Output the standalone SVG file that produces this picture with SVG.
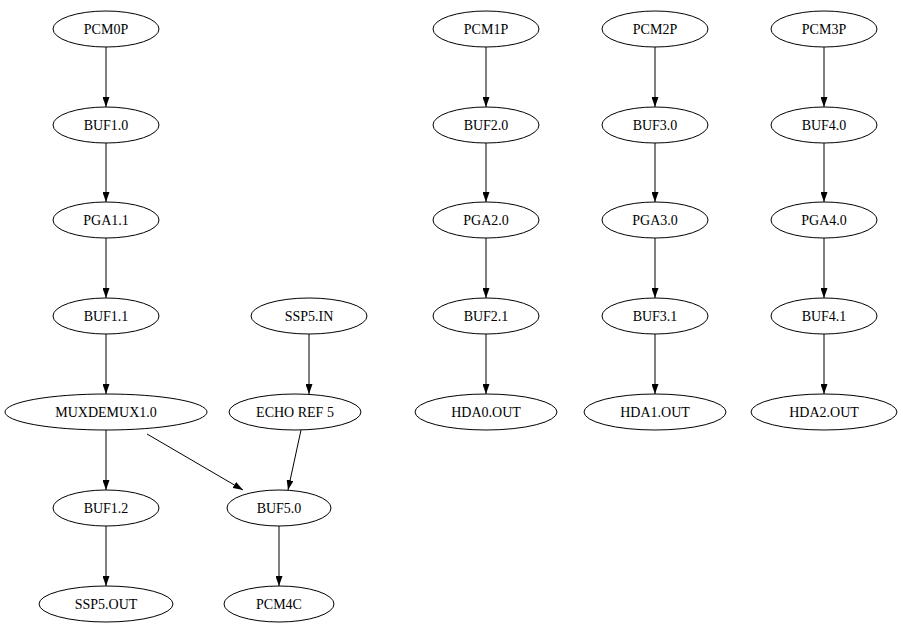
<svg xmlns="http://www.w3.org/2000/svg" width="903" height="635" viewBox="0 0 903 635">
<style>
ellipse{fill:none;stroke:#000;stroke-width:1}
text{font-family:"Liberation Serif",serif;font-size:14px;text-anchor:middle;dominant-baseline:central}
.e line{stroke:#000;stroke-width:1;marker-end:url(#a)}
</style>
<defs><marker id="a" markerWidth="10" markerHeight="7" refX="10" refY="3.5" orient="auto" markerUnits="userSpaceOnUse"><path d="M0,0L10,3.5L0,7z"/></marker></defs>
<rect width="903" height="635" fill="#fff"/>
<g class="e">
<line x1="106" y1="47" x2="106" y2="107"/>
<line x1="106" y1="143" x2="106" y2="202"/>
<line x1="106" y1="238" x2="106" y2="298"/>
<line x1="106" y1="334" x2="106" y2="394"/>
<line x1="106" y1="430" x2="106" y2="490"/>
<line x1="106" y1="526" x2="106" y2="586"/>
<line x1="147" y1="434" x2="243" y2="490"/>
<line x1="309" y1="334" x2="309" y2="394"/>
<line x1="301" y1="430" x2="288" y2="490"/>
<line x1="279" y1="526" x2="279" y2="586"/>
<line x1="486" y1="47" x2="486" y2="107"/>
<line x1="486" y1="143" x2="486" y2="202"/>
<line x1="486" y1="238" x2="486" y2="298"/>
<line x1="486" y1="334" x2="486" y2="394"/>
<line x1="655" y1="47" x2="655" y2="107"/>
<line x1="655" y1="143" x2="655" y2="202"/>
<line x1="655" y1="238" x2="655" y2="298"/>
<line x1="655" y1="334" x2="655" y2="394"/>
<line x1="824" y1="47" x2="824" y2="107"/>
<line x1="824" y1="143" x2="824" y2="202"/>
<line x1="824" y1="238" x2="824" y2="298"/>
<line x1="824" y1="334" x2="824" y2="394"/>
</g>
<g id="pcm0p"><ellipse cx="106" cy="29" rx="53" ry="18"/><text x="106" y="29">PCM0P</text></g>
<g id="buf10"><ellipse cx="106" cy="125" rx="53" ry="18"/><text x="106" y="125">BUF1.0</text></g>
<g id="pga11"><ellipse cx="106" cy="220" rx="53" ry="18"/><text x="106" y="220">PGA1.1</text></g>
<g id="buf11"><ellipse cx="106" cy="316" rx="53" ry="18"/><text x="106" y="316">BUF1.1</text></g>
<g id="mux"><ellipse cx="106" cy="412" rx="101" ry="18"/><text x="106" y="412">MUXDEMUX1.0</text></g>
<g id="buf12"><ellipse cx="106" cy="508" rx="53" ry="18"/><text x="106" y="508">BUF1.2</text></g>
<g id="ssp5out"><ellipse cx="106" cy="604" rx="67" ry="18"/><text x="106" y="604">SSP5.OUT</text></g>
<g id="ssp5in"><ellipse cx="309" cy="316" rx="58" ry="18"/><text x="309" y="316">SSP5.IN</text></g>
<g id="echo"><ellipse cx="295" cy="412" rx="66" ry="18"/><text x="295" y="412">ECHO REF 5</text></g>
<g id="buf50"><ellipse cx="279" cy="508" rx="52" ry="18"/><text x="279" y="508">BUF5.0</text></g>
<g id="pcm4c"><ellipse cx="279" cy="604" rx="55" ry="18"/><text x="279" y="604">PCM4C</text></g>
<g id="pcm1p"><ellipse cx="486" cy="29" rx="53" ry="18"/><text x="486" y="29">PCM1P</text></g>
<g id="buf20"><ellipse cx="486" cy="125" rx="53" ry="18"/><text x="486" y="125">BUF2.0</text></g>
<g id="pga20"><ellipse cx="486" cy="220" rx="53" ry="18"/><text x="486" y="220">PGA2.0</text></g>
<g id="buf21"><ellipse cx="486" cy="316" rx="53" ry="18"/><text x="486" y="316">BUF2.1</text></g>
<g id="hda0"><ellipse cx="486" cy="412" rx="71" ry="18"/><text x="486" y="412">HDA0.OUT</text></g>
<g id="pcm2p"><ellipse cx="655" cy="29" rx="53" ry="18"/><text x="655" y="29">PCM2P</text></g>
<g id="buf30"><ellipse cx="655" cy="125" rx="53" ry="18"/><text x="655" y="125">BUF3.0</text></g>
<g id="pga30"><ellipse cx="655" cy="220" rx="53" ry="18"/><text x="655" y="220">PGA3.0</text></g>
<g id="buf31"><ellipse cx="655" cy="316" rx="53" ry="18"/><text x="655" y="316">BUF3.1</text></g>
<g id="hda1"><ellipse cx="655" cy="412" rx="71" ry="18"/><text x="655" y="412">HDA1.OUT</text></g>
<g id="pcm3p"><ellipse cx="824" cy="29" rx="53" ry="18"/><text x="824" y="29">PCM3P</text></g>
<g id="buf40"><ellipse cx="824" cy="125" rx="53" ry="18"/><text x="824" y="125">BUF4.0</text></g>
<g id="pga40"><ellipse cx="824" cy="220" rx="53" ry="18"/><text x="824" y="220">PGA4.0</text></g>
<g id="buf41"><ellipse cx="824" cy="316" rx="53" ry="18"/><text x="824" y="316">BUF4.1</text></g>
<g id="hda2"><ellipse cx="824" cy="412" rx="73" ry="18"/><text x="824" y="412">HDA2.OUT</text></g>
</svg>
